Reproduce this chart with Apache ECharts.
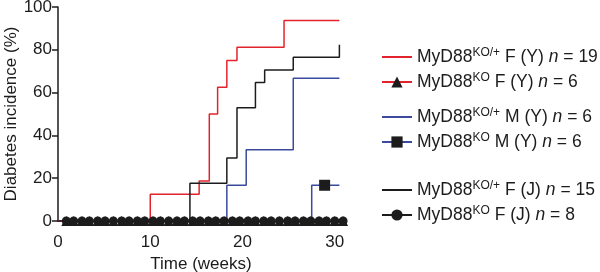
<!DOCTYPE html>
<html>
<head>
<meta charset="utf-8">
<script src="https://cdn.jsdelivr.net/npm/echarts@6/dist/echarts.min.js"></script>
<style>
  html, body { margin: 0; padding: 0; background: #fff; }
  #chart { width: 600px; height: 272px; }
</style>
</head>
<body>
<div id="chart"></div>
<script>
// step points: week where the curve jumps, incidence (%) after the jump
const hetFYWeeks = [0, 10, 15.3, 16.4, 17.3, 18.3, 19.4, 24.5, 30.5]
const hetFYPct = [0, 12.5, 18.75, 50, 62.5, 75, 81.25, 93.75, 93.75]

const hetMYWeeks = [0, 18.3, 20.4, 25.5, 30.5]
const hetMYPct = [0, 16.7, 33.3, 66.7, 66.7]

const koMYWeeks = [0, 27.5, 30.5]
const koMYPct = [0, 16.7, 16.7]
const koMYMarkWeek = 28.9

const hetFJWeeks = [0, 14.3, 18.3, 19.4, 21.4, 22.4, 25.5, 30.5, 30.5]
const hetFJPct = [0, 17.6, 29.4, 52.9, 64.7, 70.6, 76.5, 76.5, 82.4]

// KO F (Y) and KO F (J) never get diabetes: markers at every check-up
const koCheckWeeks = [0.9, 1.7, 2.6, 3.4, 4.3, 5.1, 6.0, 6.9, 7.7, 8.6, 9.4, 10.3,
  11.1, 12.0, 12.9, 13.7, 14.6, 15.4, 16.3, 17.1, 18.0, 18.9, 19.7, 20.6,
  21.4, 22.3, 23.1, 24.0, 24.9, 25.7, 26.6, 27.4, 28.3, 29.1, 30.0, 30.9]

const yTicks = [0, 20, 40, 60, 80, 100]
const xTicks = [0, 10, 20, 30]

const RED = '#e3232b'
const BLUE = '#3b4a9c'
const BLACK = '#1c1c1c'

const legendLabels = {
  hetFY: '{b|MyD88}{s|KO/+}{b| F (Y) }{i|n}{b| = 19}',
  koFY: '{b|MyD88}{s|KO}{b| F (Y) }{i|n}{b| = 6}',
  hetMY: '{b|MyD88}{s|KO/+}{b| M (Y) }{i|n}{b| = 6}',
  koMY: '{b|MyD88}{s|KO}{b| M (Y) }{i|n}{b| = 6}',
  hetFJ: '{b|MyD88}{s|KO/+}{b| F (J) }{i|n}{b| = 15}',
  koFJ: '{b|MyD88}{s|KO}{b| F (J) }{i|n}{b| = 8}',
}

const font = "'Liberation Sans', Arial, sans-serif"

function pairs(xs, ys) {
  return xs.map((x, i) => [x, ys[i]])
}

// zero line with a marker on each check-up week
function koZeroData() {
  return [{ value: [0, 0], symbol: 'none' }].concat(koCheckWeeks.map((w) => [w, 0]))
}

function stepLine(name, color, data, extra) {
  return Object.assign({
    name,
    type: 'line',
    step: 'end',
    symbol: 'none',
    lineStyle: { color, width: 1.5 },
    itemStyle: { color },
    data,
    z: 3,
  }, extra || {})
}

// het curves have no marker: hide the legend symbol, keep the line
function legend(top, names) {
  return {
    top,
    left: 381,
    orient: 'vertical',
    padding: 0,
    itemWidth: 30,
    itemHeight: 14,
    itemGap: 6,
    selectedMode: false,
    data: names.map((n) => n.startsWith('het') ? { name: n, itemStyle: { opacity: 0 } } : n),
    formatter: (n) => legendLabels[n],
    textStyle: {
      rich: {
        b: { fontFamily: font, fontSize: 17.5, color: BLACK, lineHeight: 20 },
        i: { fontFamily: font, fontSize: 17.5, fontStyle: 'italic', color: BLACK, lineHeight: 20 },
        s: { fontFamily: font, fontSize: 12, color: BLACK, lineHeight: 11, verticalAlign: 'top' },
      },
    },
  }
}

const koMYData = pairs(koMYWeeks, koMYPct).map((p) => ({ value: p, symbol: 'none' }))
koMYData.splice(2, 0, { value: [koMYMarkWeek, koMYPct[1]] })

const option = {
  animation: false,
  backgroundColor: '#fff',
  grid: { left: 58, right: 256, top: 7, bottom: 51, outerBoundsMode: 'none', containLabel: false },
  legend: [
    legend(47, ['hetFY', 'koFY']),
    legend(107, ['hetMY', 'koMY']),
    legend(180, ['hetFJ', 'koFJ']),
  ],
  xAxis: {
    type: 'value',
    min: 0,
    max: 31,
    interval: 10,
    name: 'Time (weeks)',
    nameLocation: 'middle',
    nameGap: 33,
    nameTextStyle: { fontFamily: font, fontSize: 17, color: BLACK },
    axisLine: { lineStyle: { color: BLACK, width: 1.5 } },
    axisTick: { show: false },
    splitLine: { show: false },
    axisLabel: {
      fontFamily: font, fontSize: 17, color: BLACK, margin: 13,
      customValues: xTicks,
    },
  },
  yAxis: {
    type: 'value',
    min: 0,
    max: 100,
    interval: 20,
    name: 'Diabetes incidence (%)',
    nameLocation: 'middle',
    nameGap: 38,
    nameTextStyle: { fontFamily: font, fontSize: 17, color: BLACK },
    axisLine: { show: true, lineStyle: { color: BLACK, width: 1.5 } },
    axisTick: { show: true, length: 6, lineStyle: { color: BLACK, width: 1.5 }, customValues: yTicks },
    splitLine: { show: false },
    axisLabel: { fontFamily: font, fontSize: 17, color: BLACK, margin: 6, customValues: yTicks },
  },
  series: [
    stepLine('hetFY', RED, pairs(hetFYWeeks, hetFYPct)),
    stepLine('hetMY', BLUE, pairs(hetMYWeeks, hetMYPct)),
    stepLine('hetFJ', BLACK, pairs(hetFJWeeks, hetFJPct)),
    stepLine('koMY', BLUE, koMYData, {
      symbol: 'rect', symbolSize: 11, itemStyle: { color: BLACK }, z: 4,
    }),
    stepLine('koFY', RED, koZeroData(), {
      symbol: 'triangle', symbolSize: 10, itemStyle: { color: BLACK }, z: 4,
    }),
    stepLine('koFJ', BLACK, koZeroData(), {
      symbol: 'circle', symbolSize: 9, itemStyle: { color: BLACK }, z: 5,
    }),
  ],
}

const chart = echarts.init(document.getElementById('chart'))
chart.setOption(option)
</script>
</body>
</html>
